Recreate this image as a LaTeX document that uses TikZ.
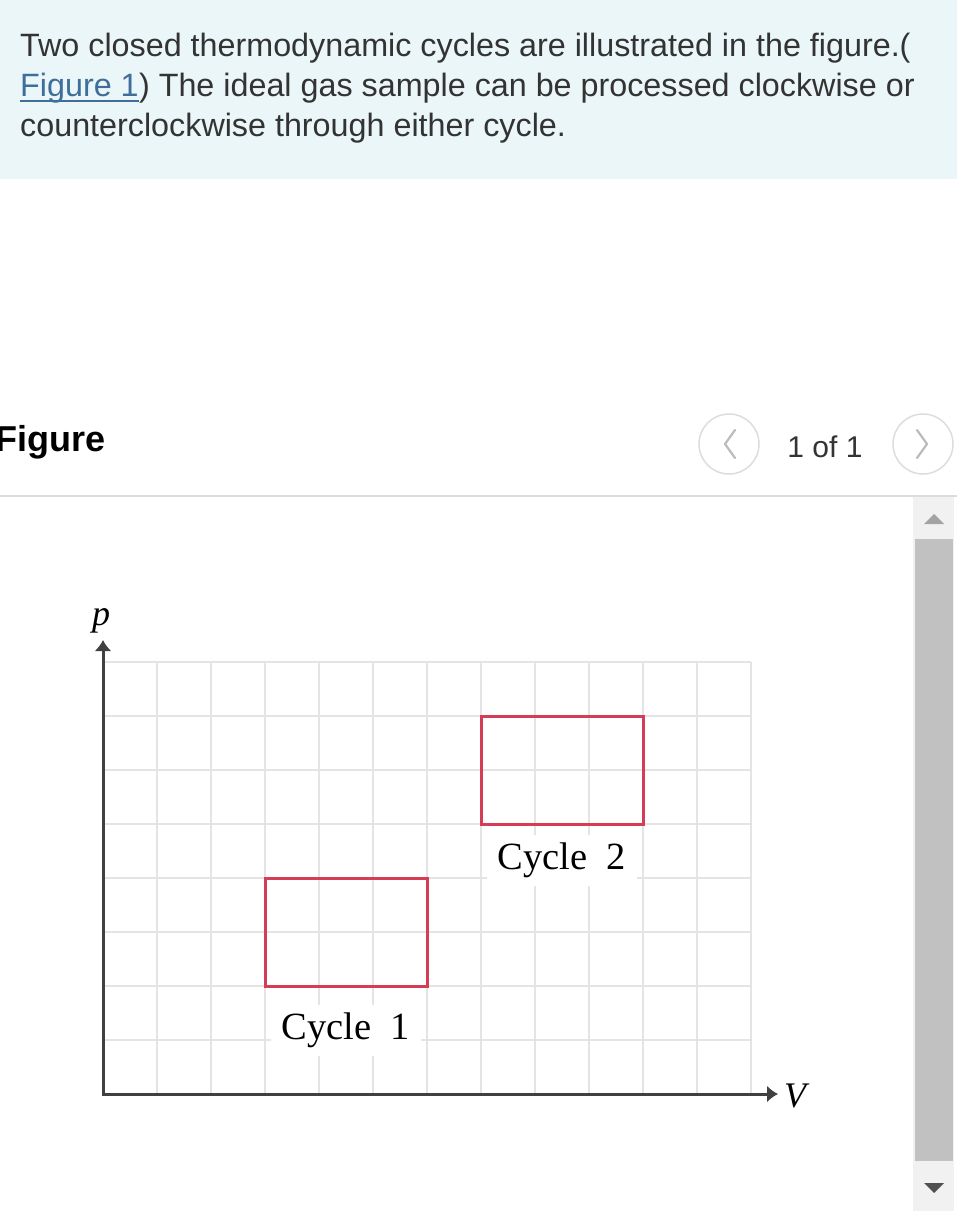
\documentclass[tikz,border=0pt]{standalone}
\usepackage{fontspec}
\setmainfont{Liberation Sans}
\newfontfamily\figfont{Liberation Serif}
\usepackage{tikz}
\usetikzlibrary{arrows.meta,positioning}
\definecolor{panelbg}{HTML}{EAF6F7}
\definecolor{txtgray}{HTML}{333333}
\definecolor{linkblue}{HTML}{3E6E99}
\definecolor{rulegray}{HTML}{DCDCDC}
\definecolor{gridgray}{HTML}{E4E4E4}
\definecolor{cyclered}{HTML}{D63C55}
\definecolor{axisgray}{HTML}{404040}
\definecolor{btngray}{HTML}{DDDDDD}
\definecolor{chevgray}{HTML}{BBBBBB}
\definecolor{trackgray}{HTML}{F1F1F1}
\definecolor{thumbgray}{HTML}{C1C1C1}
\definecolor{upgray}{HTML}{A3A3A3}
\definecolor{downgray}{HTML}{505050}

\begin{document}
\begin{tikzpicture}[x=1pt, y=-1pt, inner sep=0pt]
\tikzstyle{txt} = [anchor=base west, text=txtgray, font=\fontsize{32.3}{40}\selectfont]
\tikzstyle{btn} = [circle, draw=btngray, line width=1.5, minimum size=60]
\tikzstyle{chev} = [draw=chevgray, line width=2.2, line cap=round, line join=round]
\tikzstyle{gridline} = [draw=gridgray, line width=1.8]
\tikzstyle{cyc} = [draw=cyclered, line width=3, minimum width=162, minimum height=108]
\tikzstyle{lab} = [anchor=base, fill=white, inner xsep=11, inner ysep=8, font=\figfont\fontsize{38.5}{38}\selectfont]
\tikzstyle{axlab} = [font=\figfont\itshape\fontsize{36}{36}\selectfont]
\useasboundingbox (0,0) rectangle (972,1230);
\fill[white] (0,0) rectangle (972,1230);
\fill[panelbg] (0,0) rectangle (957,179);

\node[txt] (q1) at (20,57) {Two closed thermodynamic cycles are illustrated in the figure.(};
\node[txt, text=linkblue] (q2a) at (20,97) {Figure 1};
\node[txt] (q2b) at (q2a.base east) {) The ideal gas sample can be processed clockwise or};
\node[txt] (q3) at (20,137) {counterclockwise through either cycle.};
\draw[linkblue, line width=2.5] ([yshift=-4]q2a.base west) -- ([yshift=-4]q2a.base east);

\node[txt, text=black, font=\bfseries\fontsize{36}{36}\selectfont] (fig) at (-5,451) {Figure};
\node[btn] (prev) at (729,444) {};
\node[txt, anchor=center, font=\fontsize{30}{30}\selectfont] (pg) at (825,447) {1 of 1};
\node[btn] (next) at (923,444) {};
\draw[chev] ([shift={(6,-14)}]prev.center) -- ([shift={(-4,0)}]prev.center) -- ([shift={(6,14)}]prev.center);
\draw[chev] ([shift={(-6,-14)}]next.center) -- ([shift={(4,0)}]next.center) -- ([shift={(-6,14)}]next.center);
\draw[rulegray, line width=2] (0,496) -- (957,496);

\foreach \i in {1,...,12}
  \draw[gridline] (103+54*\i,662) -- (103+54*\i,1094);
\foreach \j in {0,...,7}
  \draw[gridline] (103,662+54*\j) -- (751,662+54*\j);

\node[cyc] (c1) at (346,932) {};
\node[cyc] (c2) at (562,770) {};
\node[lab] (l1) at ([yshift=-52]c1.south) {Cycle\ \ 1};
\node[lab] (l2) at ([yshift=-44]c2.south) {Cycle\ \ 2};

\coordinate (o) at (103,1094);
\coordinate (ptop) at (103,640);
\coordinate (vend) at (778,1094);
\draw[axisgray, line width=3, {Latex[length=11pt,width=17pt]}-{Latex[length=11pt,width=17pt]}] (ptop) -- (o) -- (vend);
\node[axlab] (p) at (101,621) {p};
\node[axlab] (v) at (795,1096) {V};

\fill[trackgray] (913,497) rectangle (954,1211);
\fill[thumbgray] (915,539) rectangle (953,1161);
\fill[upgray] (924,524) -- (944,524) -- (934,514) -- cycle;
\fill[downgray] (924,1183) -- (944,1183) -- (934,1193) -- cycle;
\end{tikzpicture}
\end{document}
